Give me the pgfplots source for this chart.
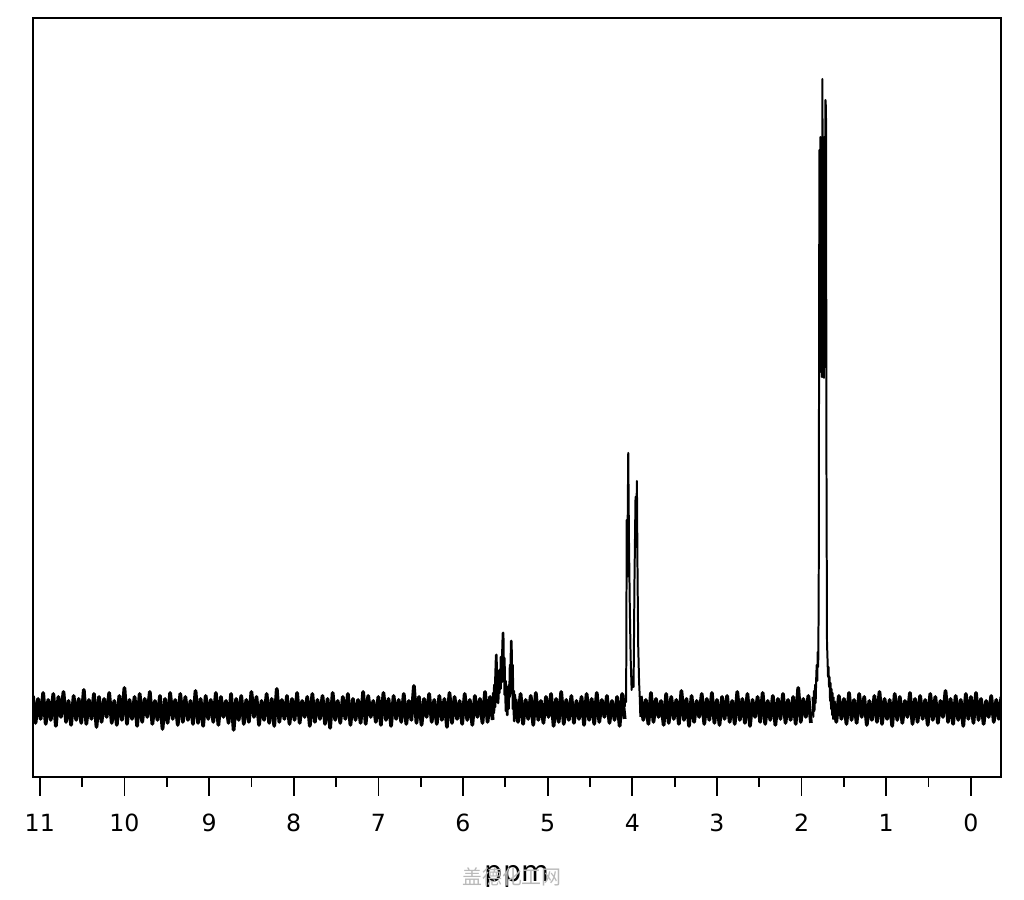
\documentclass[border=0pt]{standalone}
\usepackage{fontspec}
\setmainfont{DejaVu Sans}
\newfontfamily\cjk{Noto Sans CJK SC}
\usepackage{pgfplots}
\pgfplotsset{compat=1.18}
\pgfplotsset{
  spec/.style={black, no markers, solid, line width=0.8pt, line join=round},
  noise/.style={black, no markers, solid, line width=1.5pt, line join=round},
}
\begin{document}
\begin{tikzpicture}
\begin{axis}[
  scale only axis,
  width=13.66cm, height=10.71cm,
  x dir=reverse,
  xmin=-0.355, xmax=11.08,
  ymin=0, ymax=759,
  ytick=\empty,
  xtick={0,...,11},
  minor xtick={0.5,1.5,...,10.5},
  xtick pos=left,
  tick align=outside,
  major tick length=7.5pt,
  minor tick length=4pt,
  every tick/.style={black, line width=0.7pt},
  axis line style={line width=0.8pt},
  /pgf/number format/assume math mode=true,
  xticklabel style={font=\fontsize{9.5}{11}\selectfont, yshift=-4pt},
  xlabel={ppm},
  xlabel style={font=\fontsize{11.5}{13}\selectfont, at={(axis description cs:0.5,0)}, anchor=center, yshift=-40pt},
]
% baseline noise, 11.08 -> 5.65 ppm
\addplot[noise] table[header=false, row sep=\\, x expr={11.08-0.03*\coordindex}, y index=0] {
81\\54\\78\\58\\84\\53\\77\\57\\83\\51\\80\\60\\85\\55\\76\\52\\81\\57\\78\\54\\
87\\53\\77\\58\\83\\50\\80\\55\\78\\60\\84\\54\\76\\52\\81\\57\\89\\53\\77\\58\\
80\\51\\83\\55\\78\\60\\85\\53\\76\\57\\81\\48\\78\\54\\84\\58\\77\\52\\83\\55\\
80\\57\\76\\53\\86\\54\\78\\51\\81\\58\\77\\55\\84\\52\\80\\60\\76\\54\\83\\47\\
78\\57\\81\\53\\77\\55\\85\\60\\80\\52\\76\\57\\83\\54\\78\\51\\88\\55\\77\\58\\
81\\53\\78\\57\\84\\54\\76\\60\\80\\51\\83\\55\\77\\58\\81\\53\\78\\49\\84\\57\\
76\\54\\80\\58\\83\\52\\78\\57\\77\\54\\85\\53\\81\\60\\76\\55\\80\\52\\84\\57\\
78\\51\\81\\58\\77\\55\\83\\53\\76\\57\\91\\54\\80\\52\\78\\60\\83\\55\\77\\53\\
81\\57\\78\\50\\84\\54\\80\\58\\76\\53\\83\\57\\77\\52\\81\\60\\78\\54\\85\\55\\
80\\57\\
};
% multiplet near 5.5 ppm
\addplot[spec, line width=1.1pt] coordinates {
(5.660,72) (5.650,58) (5.643,84) (5.636,64) (5.629,92) (5.622,70) (5.615,100)
(5.607,122) (5.600,78) (5.593,104) (5.586,74) (5.579,106) (5.572,84) (5.565,107)
(5.558,88) (5.550,120) (5.543,95) (5.535,119) (5.527,144) (5.520,100) (5.513,119)
(5.506,82) (5.499,96) (5.492,66) (5.485,90) (5.478,62) (5.471,88) (5.464,68)
(5.457,92) (5.450,80) (5.443,112) (5.436,95) (5.430,136) (5.423,90) (5.416,112)
(5.409,68) (5.402,86) (5.395,56) (5.388,82) (5.380,58)
};
% noise 5.38 -> 4.09 ppm
\addplot[noise] table[header=false, row sep=\\, x expr={5.38-0.03*\coordindex}, y index=0] {
78\\55\\83\\53\\77\\58\\81\\52\\84\\57\\76\\54\\80\\60\\83\\51\\78\\55\\85\\53\\
77\\57\\81\\54\\76\\58\\80\\52\\83\\57\\78\\53\\84\\55\\77\\60\\81\\54\\76\\57\\
80\\51\\83\\58\\
};
% doublet near 4.0 ppm
\addplot[spec] coordinates {
(4.090,70) (4.081,82) (4.073,75) (4.066,257) (4.060,200) (4.048,324) (4.040,240)
(4.030,172) (4.020,120) (4.008,87) (3.998,100) (3.985,90) (3.974,200) (3.962,280)
(3.955,230) (3.946,296) (3.938,200) (3.930,130) (3.920,95) (3.912,80) (3.905,60)
};
% noise 3.90 -> 1.89 ppm
\addplot[noise] table[header=false, row sep=\\, x expr={3.90-0.03*\coordindex}, y index=0] {
81\\57\\77\\53\\84\\55\\78\\60\\76\\52\\83\\54\\80\\58\\77\\53\\86\\57\\78\\51\\
81\\55\\76\\60\\83\\53\\78\\57\\84\\54\\77\\52\\80\\58\\81\\55\\76\\53\\85\\57\\
78\\54\\83\\51\\77\\60\\80\\55\\84\\53\\76\\57\\81\\52\\78\\58\\83\\54\\77\\57\\
80\\53\\89\\55\\78\\60\\81\\54\\
};
% large doublet near 1.75 ppm
\addplot[spec] coordinates {
(1.870,80) (1.862,60) (1.855,86) (1.848,66) (1.841,92) (1.834,74) (1.827,100)
(1.822,112) (1.815,96) (1.810,125) (1.804,110) (1.798,180) (1.790,627) (1.784,420)
(1.778,640) (1.772,405) (1.766,620) (1.760,400) (1.754,698) (1.748,400) (1.742,630)
(1.736,399) (1.730,640) (1.724,410) (1.718,677) (1.712,668) (1.706,300) (1.700,134)
(1.694,118) (1.688,100) (1.682,110) (1.676,90) (1.670,100) (1.664,76) (1.658,94)
(1.652,68) (1.646,88) (1.640,62) (1.634,84) (1.628,58) (1.622,80)
};
% noise 1.62 -> -0.36 ppm
\addplot[noise] table[header=false, row sep=\\, x expr={1.62-0.03*\coordindex}, y index=0] {
76\\55\\81\\58\\78\\53\\84\\57\\77\\54\\83\\60\\80\\52\\76\\57\\81\\55\\85\\53\\
78\\58\\77\\51\\83\\57\\80\\54\\76\\60\\84\\53\\78\\55\\81\\58\\77\\52\\83\\57\\
80\\54\\76\\60\\86\\55\\78\\53\\81\\57\\77\\51\\83\\58\\80\\54\\84\\57\\78\\53\\
76\\60\\81\\55\\77\\58\\80\\
};
\end{axis}
\node[text=gray!55, font=\cjk\fontsize{8}{9}\selectfont] at ([xshift=-0.07cm,yshift=-40pt]current axis.south) {盖德化工网};
\path ([shift={(-0.466cm,-1.736cm)}]current axis.south west) rectangle ([shift={(0.325cm,0.254cm)}]current axis.north east);
\end{tikzpicture}
\end{document}
